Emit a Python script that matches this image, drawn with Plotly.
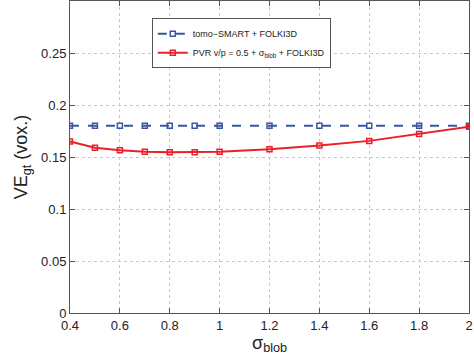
import plotly.graph_objects as go

sigma_blob = [0.4, 0.5, 0.6, 0.7, 0.8, 0.9, 1.0, 1.2, 1.4, 1.6, 1.8, 2.0]
tomo_smart = [0.18, 0.18, 0.18, 0.18, 0.18, 0.18, 0.18, 0.18, 0.18, 0.18, 0.18, 0.18]
pvr = [0.165, 0.159, 0.1565, 0.155, 0.1545, 0.1545, 0.155, 0.1575, 0.161, 0.1655, 0.172, 0.179]

x_ticks = [0.4, 0.6, 0.8, 1.0, 1.2, 1.4, 1.6, 1.8, 2.0]
x_tick_labels = ["0.4", "0.6", "0.8", "1", "1.2", "1.4", "1.6", "1.8", "2"]
y_ticks = [0, 0.05, 0.1, 0.15, 0.2, 0.25]
y_tick_labels = ["0", "0.05", "0.1", "0.15", "0.2", "0.25"]

blue = "#3a55a4"
red = "#e8202a"
FONT = "Liberation Sans, Arial, sans-serif"

fig = go.Figure()
fig.add_trace(go.Scatter(
    x=sigma_blob, y=tomo_smart, mode="lines+markers",
    name="tomo\u2212SMART + FOLKI3D",
    line=dict(color=blue, width=2, dash="dash"),
    marker=dict(symbol="square-open", size=5, color=blue, line=dict(width=1.5, color=blue)),
))
fig.add_trace(go.Scatter(
    x=sigma_blob, y=pvr, mode="lines+markers",
    name="PVR v/p = 0.5 + \u03c3<sub>blob</sub> + FOLKI3D",
    line=dict(color=red, width=2),
    marker=dict(symbol="square-open", size=5, color=red, line=dict(width=1.5, color=red)),
))

axis_common = dict(
    showline=True, linecolor="#555555", linewidth=1, mirror="ticks",
    ticks="inside", ticklen=5, tickcolor="#555555",
    showgrid=True, gridcolor="#c8c8c8", griddash="dot", gridwidth=1,
    zeroline=False,
    tickfont=dict(family=FONT, size=13, color="#222222"),
)

fig.update_xaxes(
    range=[0.4, 2.0], tickvals=x_ticks, ticktext=x_tick_labels,
    title=dict(text="\u03c3<sub>blob</sub>", font=dict(family=FONT, size=18, color="#222222"), standoff=4),
    **axis_common,
)
fig.update_yaxes(
    range=[0, 0.3], tickvals=y_ticks, ticktext=y_tick_labels,
    title=dict(text="VE<sub>gt</sub> (vox.)", font=dict(family=FONT, size=18, color="#222222"), standoff=8),
    **axis_common,
)

fig.update_layout(
    width=474, height=364,
    margin=dict(l=70, r=5, t=1, b=51),
    plot_bgcolor="white", paper_bgcolor="white",
    font=dict(family=FONT, color="#222222"),
    legend=dict(
        x=0.205, y=0.945, xanchor="left", yanchor="top",
        bgcolor="white", bordercolor="#555555", borderwidth=1,
        font=dict(size=9, color="#222222"),
        itemwidth=30, tracegroupgap=0,
    ),
    showlegend=True,
)

fig.write_html(
    "out.html",
    config={"displayModeBar": False},
    post_script="document.body.style.margin='0';document.body.style.padding='0';",
)
